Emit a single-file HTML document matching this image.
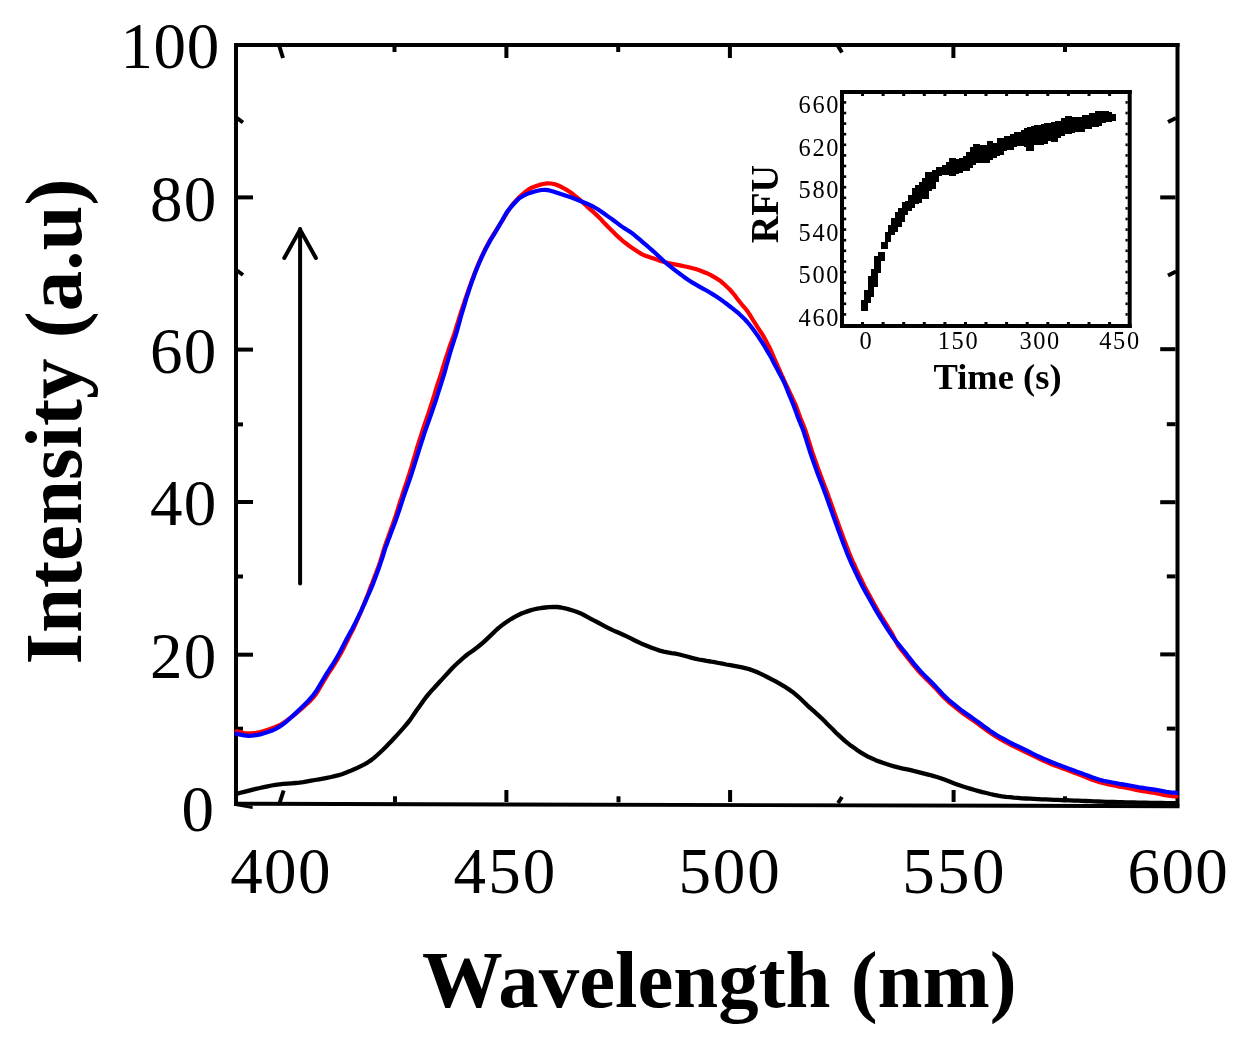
<!DOCTYPE html>
<html><head><meta charset="utf-8">
<style>
html,body{margin:0;padding:0;background:#fff;width:1250px;height:1049px;overflow:hidden}
svg{display:block;will-change:transform}
.t{font-family:"Liberation Serif",serif;fill:#000}
.lab{font-size:65px;letter-spacing:1.3px}
.ilab{font-size:24.4px;letter-spacing:1.6px}
.b{font-weight:bold}
</style></head>
<body>
<svg width="1250" height="1049" viewBox="0 0 1250 1049">
<rect width="1250" height="1049" fill="#fff"/>
<!-- frame -->
<g fill="#000">
<rect x="234" y="43" width="4" height="762.5"/>
<rect x="1175.5" y="43" width="4" height="763"/>
<rect x="234" y="43" width="945.5" height="4"/>
<polygon points="234,801.8 1179.5,804.2 1179.5,808.3 234,805.6"/>
<polygon points="234,803.5 252.6,805.7 252.6,809 234,805.8"/>
<!-- left ticks major -->
<rect x="238" y="195.4" width="15" height="4"/>
<rect x="238" y="347.6" width="15" height="4"/>
<rect x="238" y="500" width="15" height="4"/>
<rect x="238" y="652.7" width="15" height="4"/>
<!-- left ticks minor -->
<rect x="238" y="422.4" width="5" height="4"/>
<rect x="238" y="574.5" width="5" height="4"/>
<rect x="238" y="726.7" width="5" height="4"/>
<!-- right ticks major -->
<rect x="1160.2" y="195.4" width="15.3" height="4"/>
<rect x="1160.2" y="347.2" width="15.3" height="4"/>
<rect x="1160.2" y="500.2" width="15.3" height="4"/>
<rect x="1160.2" y="652.4" width="15.3" height="4"/>
<rect x="1166.8" y="422.2" width="8.7" height="4"/>
<rect x="1166.8" y="574.4" width="8.7" height="4"/>
<rect x="1166.8" y="726.6" width="8.7" height="4"/>
<!-- top ticks -->
<rect x="504.4" y="47" width="4" height="11"/>
<rect x="727.9" y="47" width="4" height="11"/>
<rect x="951.4" y="47" width="4" height="11"/>
<rect x="392.5" y="47" width="4" height="5"/>
<rect x="616.2" y="47" width="4" height="5"/>
<rect x="1063" y="47" width="4" height="5"/>
<!-- bottom ticks -->
<rect x="504.4" y="790" width="4" height="12"/>
<rect x="728.1" y="790" width="4" height="12"/>
<rect x="951.6" y="790" width="4" height="12"/>
<rect x="393" y="796.3" width="4" height="6"/>
<rect x="616.5" y="796.3" width="4" height="6"/>
<rect x="1063" y="796.3" width="4" height="6"/>
</g>
<!-- slanted ticks -->
<g stroke="#000" stroke-width="4" fill="none">
<line x1="279.3" y1="46" x2="283" y2="58"/>
<line x1="283.6" y1="790.5" x2="279.8" y2="802.5"/>
<line x1="838" y1="46" x2="842" y2="52.5"/>
<line x1="838" y1="803" x2="842" y2="797"/>
<line x1="237" y1="118" x2="243" y2="122.5"/>
<line x1="237" y1="270.5" x2="243" y2="275"/>
<line x1="1176" y1="118" x2="1168" y2="122"/>
<line x1="1176" y1="271.5" x2="1168" y2="275.5"/>
</g>
<!-- curves -->
<g fill="none" stroke-linejoin="round" stroke-linecap="round">
<path d="M236.5,793.9 L240.4,792.8 L244.2,791.8 L248.1,790.8 L252.0,789.8 L255.9,788.8 L259.8,788.0 L263.7,787.1 L267.6,786.3 L271.5,785.5 L275.5,784.8 L279.4,784.3 L283.4,783.9 L287.4,783.6 L291.4,783.3 L295.4,783.0 L299.4,782.7 L303.3,782.2 L307.3,781.4 L311.2,780.7 L315.1,780.0 L319.1,779.3 L323.0,778.6 L327.0,777.8 L330.9,777.0 L334.8,776.1 L338.7,775.2 L342.5,774.0 L346.3,772.6 L350.0,771.1 L353.6,769.5 L357.3,767.9 L360.9,766.1 L364.4,764.3 L367.9,762.3 L371.2,760.1 L374.3,757.6 L377.3,755.0 L380.3,752.2 L383.2,749.5 L386.0,746.7 L388.8,743.8 L391.6,740.9 L394.3,738.0 L397.0,735.1 L399.7,732.1 L402.4,729.1 L405.0,726.1 L407.6,723.0 L410.1,719.9 L412.3,716.6 L414.6,713.3 L416.8,710.0 L419.2,706.7 L421.5,703.4 L423.8,700.2 L426.2,697.0 L428.8,693.9 L431.4,690.9 L434.1,688.0 L436.8,685.0 L439.5,682.0 L442.2,679.1 L444.9,676.1 L447.6,673.2 L450.3,670.2 L453.1,667.3 L456.0,664.5 L458.9,661.8 L461.9,659.2 L464.9,656.5 L468.0,654.0 L471.3,651.7 L474.5,649.4 L477.7,647.0 L480.8,644.5 L483.9,641.9 L486.8,639.1 L489.7,636.4 L492.6,633.6 L495.5,630.8 L498.4,628.1 L501.5,625.6 L504.7,623.2 L508.0,621.0 L511.4,618.8 L514.8,616.8 L518.4,615.0 L522.0,613.3 L525.8,611.9 L529.6,610.6 L533.4,609.5 L537.3,608.7 L541.3,608.0 L545.2,607.5 L549.2,607.1 L553.2,606.9 L557.2,607.0 L561.1,607.5 L565.0,608.3 L568.9,609.4 L572.7,610.5 L576.5,611.7 L580.2,613.2 L583.8,615.0 L587.3,616.9 L590.8,618.8 L594.3,620.7 L597.9,622.5 L601.4,624.4 L605.0,626.3 L608.5,628.1 L612.1,629.9 L615.8,631.6 L619.4,633.1 L623.1,634.7 L626.7,636.4 L630.3,638.2 L633.9,640.0 L637.5,641.7 L641.1,643.4 L644.8,644.9 L648.5,646.4 L652.3,647.9 L656.0,649.3 L659.8,650.6 L663.7,651.6 L667.6,652.4 L671.5,653.1 L675.5,653.7 L679.4,654.5 L683.3,655.5 L687.1,656.5 L691.0,657.6 L694.9,658.6 L698.8,659.5 L702.7,660.2 L706.6,660.9 L710.6,661.5 L714.5,662.2 L718.5,663.0 L722.4,663.7 L726.3,664.5 L730.3,665.2 L734.2,665.9 L738.2,666.6 L742.1,667.4 L746.0,668.3 L749.8,669.4 L753.6,670.7 L757.3,672.3 L760.9,673.9 L764.5,675.7 L768.1,677.5 L771.6,679.3 L775.2,681.2 L778.7,683.2 L782.1,685.2 L785.6,687.2 L788.9,689.4 L792.2,691.7 L795.3,694.2 L798.4,696.8 L801.3,699.5 L804.2,702.3 L807.0,705.1 L810.0,707.8 L813.0,710.4 L816.0,713.1 L819.0,715.8 L821.9,718.5 L824.7,721.3 L827.5,724.2 L830.4,727.0 L833.2,729.8 L836.0,732.7 L838.9,735.4 L841.9,738.1 L844.9,740.8 L848.0,743.3 L851.1,745.8 L854.4,748.1 L857.7,750.4 L861.0,752.6 L864.4,754.7 L867.9,756.6 L871.5,758.3 L875.2,759.9 L878.9,761.4 L882.7,762.7 L886.5,764.0 L890.3,765.2 L894.1,766.4 L898.0,767.4 L901.9,768.3 L905.8,769.1 L909.7,769.9 L913.6,770.9 L917.5,771.8 L921.4,772.8 L925.3,773.8 L929.2,774.8 L933.0,775.9 L936.9,777.0 L940.7,778.2 L944.4,779.6 L948.2,781.0 L951.9,782.5 L955.7,783.9 L959.4,785.2 L963.2,786.5 L967.0,787.7 L970.9,788.9 L974.7,790.0 L978.6,791.1 L982.4,792.1 L986.3,793.0 L990.2,794.0 L994.1,794.9 L998.0,795.7 L1002.0,796.3 L1006.0,796.8 L1009.9,797.2 L1013.9,797.6 L1017.9,797.9 L1021.9,798.3 L1025.9,798.5 L1029.9,798.7 L1033.9,798.9 L1037.9,799.1 L1041.9,799.3 L1045.9,799.4 L1049.9,799.6 L1053.9,799.8 L1057.9,799.9 L1061.9,800.1 L1065.9,800.2 L1069.9,800.4 L1073.9,800.6 L1077.9,800.7 L1081.9,800.9 L1085.9,801.0 L1089.9,801.2 L1093.9,801.4 L1097.9,801.5 L1101.9,801.6 L1105.9,801.8 L1109.9,801.9 L1113.9,802.0 L1117.9,802.1 L1121.9,802.2 L1125.9,802.3 L1130.0,802.4 L1134.0,802.5 L1138.0,802.6 L1142.0,802.6 L1146.0,802.7 L1150.0,802.8 L1154.0,802.9 L1158.0,803.0 L1162.0,803.0 L1166.0,803.1 L1170.0,803.1 L1174.0,803.2 L1176.0,803.2" stroke="#000" stroke-width="4.3"/>
<path d="M236.5,731.2 L240.4,732.2 L244.3,733.0 L248.2,733.4 L252.2,733.3 L256.2,732.8 L260.1,732.0 L264.0,730.9 L267.8,729.8 L271.6,728.4 L275.3,727.0 L279.0,725.5 L282.4,723.5 L285.8,721.3 L289.0,718.9 L292.2,716.5 L295.3,714.0 L298.4,711.4 L301.4,708.8 L304.4,706.2 L307.4,703.5 L310.3,700.7 L313.0,697.8 L315.6,694.7 L317.7,691.4 L319.7,687.9 L321.8,684.5 L323.8,681.0 L325.9,677.6 L327.9,674.2 L330.1,670.8 L332.3,667.5 L334.5,664.1 L336.6,660.7 L338.6,657.2 L340.6,653.8 L342.5,650.3 L344.3,646.7 L346.1,643.1 L347.9,639.5 L349.7,635.9 L351.5,632.4 L353.3,628.8 L355.0,625.2 L356.6,621.5 L358.2,617.8 L359.8,614.2 L361.4,610.5 L362.9,606.8 L364.4,603.1 L365.9,599.4 L367.4,595.6 L368.8,591.9 L370.2,588.1 L371.7,584.4 L373.1,580.7 L374.5,576.9 L376.0,573.2 L377.4,569.5 L378.8,565.7 L380.1,561.9 L381.3,558.1 L382.4,554.3 L383.6,550.4 L384.8,546.6 L386.1,542.8 L387.5,539.1 L388.8,535.3 L390.2,531.5 L391.5,527.8 L392.9,524.0 L394.2,520.2 L395.5,516.4 L396.7,512.6 L397.9,508.8 L399.1,505.0 L400.3,501.2 L401.6,497.3 L402.8,493.5 L404.0,489.7 L405.3,485.9 L406.6,482.1 L407.8,478.3 L409.1,474.5 L410.3,470.7 L411.5,466.9 L412.6,463.0 L413.7,459.2 L414.9,455.4 L416.0,451.5 L417.1,447.7 L418.3,443.9 L419.5,440.0 L420.8,436.2 L422.0,432.4 L423.2,428.6 L424.5,424.8 L425.8,421.0 L427.1,417.2 L428.4,413.4 L429.6,409.6 L430.9,405.8 L432.1,402.0 L433.3,398.2 L434.5,394.4 L435.6,390.5 L436.8,386.7 L438.0,382.9 L439.3,379.1 L440.6,375.3 L441.8,371.5 L442.9,367.7 L444.1,363.8 L445.3,360.0 L446.5,356.2 L447.8,352.4 L449.0,348.6 L450.3,344.8 L451.7,341.1 L453.1,337.3 L454.4,333.5 L455.6,329.7 L456.7,325.9 L457.9,322.0 L459.1,318.2 L460.3,314.4 L461.5,310.6 L462.8,306.8 L464.1,303.0 L465.3,299.2 L466.6,295.4 L467.9,291.6 L469.3,287.8 L470.6,284.1 L472.0,280.3 L473.4,276.5 L474.8,272.8 L476.3,269.1 L477.8,265.4 L479.4,261.7 L481.0,258.0 L482.7,254.4 L484.4,250.8 L486.2,247.2 L488.1,243.7 L490.0,240.2 L492.1,236.8 L494.2,233.4 L496.3,230.0 L498.5,226.6 L500.6,223.2 L502.7,219.8 L504.8,216.4 L506.9,213.0 L509.0,209.6 L511.2,206.2 L513.7,203.1 L516.4,200.2 L519.2,197.3 L522.2,194.6 L525.2,192.0 L528.4,189.6 L531.8,187.6 L535.5,186.2 L539.4,184.9 L543.2,184.0 L547.2,183.4 L551.1,183.5 L555.0,184.2 L558.7,185.7 L562.3,187.5 L565.8,189.4 L569.2,191.5 L572.5,193.8 L575.6,196.3 L578.7,198.9 L581.7,201.5 L584.7,204.2 L587.6,206.9 L590.6,209.6 L593.6,212.2 L596.5,214.9 L599.4,217.7 L602.1,220.7 L604.8,223.6 L607.7,226.5 L610.5,229.3 L613.3,232.1 L616.2,234.9 L619.1,237.6 L622.1,240.3 L625.2,242.8 L628.4,245.2 L631.6,247.6 L634.9,249.8 L638.3,252.0 L641.7,254.1 L645.4,255.7 L649.1,257.0 L652.9,258.3 L656.7,259.6 L660.5,260.9 L664.3,262.0 L668.2,263.0 L672.1,263.8 L676.1,264.6 L680.0,265.4 L683.9,266.2 L687.8,267.0 L691.7,268.0 L695.6,269.1 L699.4,270.3 L703.1,271.7 L706.8,273.2 L710.4,274.9 L713.9,276.9 L717.3,278.9 L720.6,281.1 L723.7,283.8 L726.6,286.5 L729.5,289.3 L732.2,292.2 L734.7,295.3 L737.1,298.5 L739.6,301.7 L742.1,304.8 L744.7,307.8 L747.2,310.9 L749.4,314.2 L751.5,317.6 L753.6,321.0 L755.8,324.4 L758.0,327.8 L760.2,331.1 L762.4,334.5 L764.4,337.9 L766.3,341.5 L768.1,345.0 L770.0,348.6 L771.6,352.2 L773.2,355.9 L774.8,359.5 L776.4,363.2 L778.0,366.9 L779.7,370.5 L781.3,374.2 L783.0,377.8 L784.6,381.5 L786.3,385.1 L788.0,388.7 L789.7,392.3 L791.4,396.0 L793.1,399.6 L794.8,403.2 L796.4,406.9 L797.8,410.7 L799.1,414.4 L800.5,418.2 L802.0,421.9 L803.5,425.6 L805.0,429.3 L806.3,433.1 L807.5,436.9 L808.7,440.7 L809.9,444.5 L811.1,448.4 L812.3,452.2 L813.6,456.0 L814.9,459.7 L816.3,463.5 L817.6,467.3 L819.0,471.1 L820.4,474.8 L821.8,478.6 L823.2,482.3 L824.6,486.0 L826.1,489.8 L827.5,493.5 L828.8,497.3 L830.2,501.1 L831.5,504.8 L832.9,508.6 L834.2,512.4 L835.6,516.2 L836.9,519.9 L838.3,523.7 L839.6,527.5 L841.0,531.2 L842.4,535.0 L843.7,538.7 L845.2,542.5 L846.6,546.2 L848.0,550.0 L849.5,553.7 L851.0,557.4 L852.6,561.1 L854.3,564.7 L855.9,568.4 L857.6,572.0 L859.3,575.6 L861.1,579.2 L862.8,582.8 L864.6,586.4 L866.5,589.9 L868.4,593.5 L870.3,597.0 L872.2,600.5 L874.1,604.0 L876.1,607.5 L878.0,611.0 L880.1,614.4 L882.2,617.8 L884.3,621.2 L886.5,624.6 L888.6,628.0 L890.7,631.4 L892.7,634.9 L894.5,638.4 L896.2,642.1 L898.1,645.6 L900.5,648.8 L903.0,651.8 L905.5,654.9 L908.0,658.1 L910.4,661.3 L912.9,664.4 L915.5,667.5 L918.1,670.5 L920.8,673.5 L923.6,676.3 L926.4,679.2 L929.3,682.0 L932.1,684.8 L934.9,687.7 L937.6,690.7 L940.3,693.6 L943.0,696.5 L945.9,699.3 L948.8,702.1 L951.9,704.6 L955.0,707.1 L958.1,709.6 L961.3,712.1 L964.5,714.5 L967.8,716.7 L971.1,719.0 L974.4,721.3 L977.6,723.6 L980.8,726.0 L984.0,728.4 L987.3,730.8 L990.6,733.1 L993.9,735.3 L997.3,737.4 L1000.8,739.4 L1004.3,741.3 L1007.8,743.3 L1011.3,745.2 L1014.9,746.9 L1018.5,748.6 L1022.1,750.3 L1025.7,752.1 L1029.3,753.9 L1032.9,755.7 L1036.5,757.4 L1040.1,759.2 L1043.7,760.8 L1047.4,762.4 L1051.1,764.0 L1054.8,765.5 L1058.6,766.9 L1062.3,768.2 L1066.1,769.6 L1069.8,771.1 L1073.6,772.5 L1077.3,773.9 L1081.1,775.3 L1084.8,776.7 L1088.5,778.2 L1092.2,779.7 L1096.0,781.0 L1099.8,782.2 L1103.7,783.3 L1107.6,784.1 L1111.5,785.0 L1115.4,785.8 L1119.3,786.6 L1123.3,787.3 L1127.2,788.0 L1131.2,788.8 L1135.1,789.6 L1139.0,790.4 L1142.9,791.1 L1146.9,791.7 L1150.8,792.4 L1154.8,793.0 L1158.7,793.8 L1162.6,794.6 L1166.6,795.4 L1170.5,795.9 L1174.5,796.3 L1176.5,796.5" stroke="#f00" stroke-width="4.2"/>
<path d="M236.5,733.6 L240.4,734.6 L244.3,735.4 L248.3,735.8 L252.2,735.7 L256.2,735.2 L260.1,734.4 L264.0,733.3 L267.8,732.1 L271.5,730.8 L275.2,729.1 L278.7,727.2 L282.0,725.0 L285.2,722.6 L288.3,720.0 L291.2,717.3 L294.2,714.6 L297.1,711.9 L300.0,709.1 L302.9,706.3 L305.7,703.5 L308.5,700.6 L311.1,697.6 L313.7,694.6 L316.1,691.3 L318.2,687.9 L320.2,684.5 L322.2,681.0 L324.3,677.6 L326.4,674.2 L328.5,670.8 L330.7,667.5 L332.9,664.1 L335.0,660.7 L337.0,657.2 L339.0,653.8 L340.9,650.2 L342.7,646.7 L344.5,643.1 L346.4,639.5 L348.3,636.0 L350.2,632.5 L352.2,629.0 L354.0,625.5 L355.8,621.9 L357.6,618.3 L359.3,614.7 L361.1,611.1 L362.7,607.4 L364.4,603.8 L366.0,600.1 L367.6,596.5 L369.2,592.8 L370.8,589.1 L372.4,585.4 L373.8,581.7 L375.2,578.0 L376.6,574.2 L378.0,570.4 L379.3,566.7 L380.6,562.9 L381.9,559.1 L383.1,555.3 L384.3,551.4 L385.5,547.6 L386.9,543.9 L388.3,540.1 L389.7,536.4 L391.1,532.6 L392.5,528.9 L394.0,525.1 L395.4,521.4 L396.7,517.6 L398.0,513.8 L399.3,510.0 L400.5,506.2 L401.8,502.4 L403.0,498.6 L404.3,494.8 L405.6,491.0 L406.9,487.2 L408.2,483.5 L409.6,479.7 L410.9,475.9 L412.1,472.1 L413.3,468.3 L414.5,464.5 L415.7,460.6 L416.9,456.8 L418.1,453.0 L419.3,449.2 L420.5,445.3 L421.7,441.5 L423.0,437.7 L424.2,433.9 L425.5,430.1 L426.8,426.4 L428.2,422.6 L429.5,418.8 L430.8,415.0 L432.1,411.2 L433.4,407.5 L434.7,403.7 L436.0,399.9 L437.2,396.0 L438.4,392.2 L439.6,388.4 L440.8,384.6 L442.0,380.8 L443.2,377.0 L444.4,373.1 L445.5,369.3 L446.5,365.4 L447.6,361.6 L448.7,357.7 L449.8,353.9 L451.0,350.0 L452.2,346.2 L453.4,342.4 L454.6,338.6 L455.9,334.8 L457.0,330.9 L458.0,327.1 L459.1,323.2 L460.2,319.3 L461.2,315.5 L462.4,311.6 L463.5,307.8 L464.7,304.0 L465.8,300.1 L467.0,296.3 L468.3,292.5 L469.5,288.7 L470.8,284.9 L472.1,281.1 L473.5,277.4 L474.9,273.6 L476.3,269.9 L477.8,266.2 L479.4,262.5 L481.0,258.8 L482.7,255.2 L484.4,251.6 L486.2,248.0 L488.1,244.4 L490.0,240.9 L492.1,237.5 L494.2,234.1 L496.2,230.7 L498.3,227.2 L500.3,223.8 L502.3,220.3 L504.2,216.8 L506.2,213.3 L508.5,210.1 L511.0,207.0 L513.7,204.0 L516.4,201.0 L519.3,198.3 L522.6,196.2 L526.2,194.4 L529.9,192.9 L533.7,191.7 L537.6,190.7 L541.5,190.0 L545.5,189.8 L549.4,190.4 L553.2,191.5 L557.0,192.8 L560.8,194.1 L564.6,195.3 L568.4,196.5 L572.2,197.8 L576.0,199.3 L579.7,200.7 L583.4,202.2 L587.1,203.7 L590.8,205.4 L594.3,207.2 L597.8,209.2 L601.1,211.4 L604.4,213.7 L607.6,216.1 L610.9,218.4 L614.1,220.8 L617.3,223.1 L620.5,225.6 L623.8,227.9 L627.2,230.0 L630.6,232.1 L633.8,234.5 L636.8,237.1 L639.9,239.7 L642.9,242.3 L646.0,244.9 L649.0,247.5 L652.0,250.1 L655.0,252.8 L657.9,255.5 L660.8,258.2 L663.8,261.0 L666.8,263.6 L669.9,266.1 L673.0,268.6 L676.2,271.1 L679.4,273.5 L682.6,275.9 L685.8,278.3 L689.1,280.5 L692.5,282.6 L696.0,284.6 L699.4,286.6 L702.9,288.6 L706.5,290.5 L709.9,292.5 L713.3,294.6 L716.7,296.8 L720.0,299.0 L723.3,301.4 L726.5,303.8 L729.7,306.2 L732.8,308.6 L735.9,311.1 L739.0,313.7 L741.9,316.5 L744.8,319.3 L747.5,322.2 L750.0,325.3 L752.5,328.5 L754.9,331.7 L757.2,334.9 L759.4,338.3 L761.6,341.6 L763.8,345.0 L765.8,348.4 L767.8,351.9 L769.8,355.3 L771.8,358.8 L773.6,362.4 L775.5,365.9 L777.4,369.5 L779.2,373.0 L781.1,376.5 L783.0,380.1 L784.7,383.7 L786.3,387.4 L787.7,391.1 L789.2,394.8 L790.8,398.5 L792.3,402.2 L793.8,405.9 L795.2,409.7 L796.6,413.5 L797.9,417.2 L799.4,421.0 L800.9,424.6 L802.4,428.3 L803.8,432.1 L805.0,435.9 L806.2,439.7 L807.4,443.6 L808.6,447.4 L809.8,451.2 L811.1,455.0 L812.4,458.8 L813.7,462.5 L815.1,466.3 L816.4,470.1 L817.8,473.9 L819.2,477.6 L820.6,481.3 L822.1,485.1 L823.5,488.8 L824.9,492.6 L826.3,496.3 L827.6,500.1 L829.0,503.9 L830.3,507.6 L831.7,511.4 L833.0,515.2 L834.4,519.0 L835.7,522.7 L837.1,526.5 L838.4,530.3 L839.8,534.0 L841.2,537.8 L842.6,541.5 L844.0,545.3 L845.5,549.0 L846.9,552.7 L848.4,556.5 L850.0,560.1 L851.6,563.8 L853.3,567.4 L855.0,571.1 L856.7,574.7 L858.4,578.3 L860.2,581.9 L862.0,585.5 L863.9,589.0 L865.8,592.5 L867.8,596.0 L869.8,599.5 L871.7,603.0 L873.7,606.4 L875.6,609.9 L877.7,613.4 L879.8,616.8 L881.9,620.2 L884.0,623.6 L886.2,627.0 L888.3,630.4 L890.5,633.7 L892.8,637.0 L895.2,640.2 L897.7,643.3 L900.2,646.4 L902.8,649.5 L905.3,652.6 L907.7,655.8 L910.2,658.9 L912.7,662.1 L915.2,665.2 L917.8,668.2 L920.5,671.2 L923.3,674.1 L926.1,676.9 L929.0,679.7 L931.8,682.5 L934.6,685.4 L937.3,688.4 L940.0,691.3 L942.7,694.2 L945.6,697.1 L948.5,699.8 L951.6,702.4 L954.7,704.9 L957.8,707.4 L960.9,709.9 L964.2,712.2 L967.5,714.5 L970.8,716.8 L974.0,719.1 L977.3,721.4 L980.5,723.8 L983.7,726.2 L987.0,728.5 L990.2,730.9 L993.5,733.1 L996.9,735.2 L1000.4,737.2 L1003.9,739.1 L1007.4,741.1 L1010.9,743.0 L1014.5,744.8 L1018.2,746.4 L1021.8,748.1 L1025.4,749.9 L1029.0,751.7 L1032.5,753.5 L1036.1,755.3 L1039.7,757.0 L1043.4,758.7 L1047.1,760.3 L1050.7,761.8 L1054.4,763.3 L1058.2,764.8 L1062.0,766.1 L1065.7,767.5 L1069.5,768.9 L1073.2,770.3 L1077.0,771.7 L1080.8,773.0 L1084.5,774.4 L1088.2,775.8 L1092.0,777.3 L1095.8,778.6 L1099.6,779.7 L1103.5,780.7 L1107.4,781.5 L1111.3,782.3 L1115.3,783.0 L1119.2,783.8 L1123.1,784.4 L1127.1,785.1 L1131.0,785.8 L1135.0,786.5 L1138.9,787.3 L1142.9,787.9 L1146.8,788.5 L1150.8,789.1 L1154.7,789.7 L1158.7,790.4 L1162.6,791.1 L1166.5,791.8 L1170.5,792.3 L1174.5,792.6 L1176.5,792.8" stroke="#00f" stroke-width="4.2"/>
</g>
<!-- arrow -->
<g stroke="#000" stroke-width="4" fill="none" stroke-linecap="round" stroke-linejoin="round">
<line x1="300.1" y1="229" x2="300.1" y2="583.6"/>
<polyline points="284.3,258 300.1,229.6 315.9,258"/>
</g>
<!-- y labels -->
<g class="t lab" text-anchor="end">
<text x="220" y="68.2" style="letter-spacing:0.7px">100</text>
<text x="217.5" y="220.6">80</text>
<text x="217.5" y="373.4">60</text>
<text x="217.5" y="525.3">40</text>
<text x="217.5" y="677.8">20</text>
<text x="215.2" y="830.8">0</text>
</g>
<!-- x labels -->
<g class="t lab" text-anchor="middle">
<text x="281" y="892.7">400</text>
<text x="505.5" y="893" style="letter-spacing:2.2px">450</text>
<text x="730" y="893" style="letter-spacing:1.8px">500</text>
<text x="954.5" y="893" style="letter-spacing:2.4px">550</text>
<text x="1178.3" y="893">600</text>
</g>
<!-- titles -->
<text class="t b" x="422" y="1006.8" font-size="80.8">Wavelength (nm)</text>
<text class="t b" font-size="81" transform="translate(80.5,664.5) rotate(-90)">Intensity (a.u)</text>

<!-- inset -->
<g fill="#000">
<rect x="840" y="90" width="4" height="238"/>
<rect x="1127.7" y="90" width="4" height="238"/>
<rect x="840" y="90" width="291.7" height="4"/>
<rect x="840" y="324" width="291.7" height="4"/>
<rect x="861" y="300" width="7" height="11"/><rect x="864" y="290" width="7" height="13"/><rect x="868" y="276" width="6" height="21"/><rect x="871" y="269" width="7" height="18"/><rect x="874" y="256" width="7" height="17"/><rect x="878" y="252" width="7" height="9"/><rect x="881" y="242" width="7" height="7"/><rect x="885" y="232" width="6" height="10"/><rect x="888" y="225" width="7" height="10"/><rect x="891" y="218" width="7" height="14"/><rect x="895" y="212" width="7" height="15"/><rect x="898" y="208" width="7" height="14"/><rect x="902" y="202" width="6" height="13"/><rect x="905" y="201" width="7" height="10"/><rect x="908" y="195" width="7" height="13"/><rect x="912" y="188" width="7" height="16"/><rect x="915" y="185" width="7" height="18"/><rect x="919" y="182" width="6" height="17"/><rect x="922" y="178" width="7" height="21"/><rect x="925" y="172" width="7" height="19"/><rect x="929" y="172" width="7" height="17"/><rect x="932" y="170" width="7" height="12"/><rect x="936" y="167" width="6" height="9"/><rect x="939" y="167" width="7" height="8"/><rect x="942" y="165" width="7" height="10"/><rect x="946" y="162" width="7" height="13"/><rect x="949" y="158" width="7" height="18"/><rect x="953" y="159" width="6" height="15"/><rect x="956" y="159" width="7" height="14"/><rect x="959" y="158" width="7" height="12"/><rect x="963" y="156" width="7" height="15"/><rect x="966" y="152" width="7" height="16"/><rect x="970" y="147" width="6" height="18"/><rect x="973" y="144" width="7" height="19"/><rect x="976" y="145" width="7" height="18"/><rect x="980" y="145" width="7" height="17"/><rect x="983" y="145" width="7" height="18"/><rect x="987" y="141" width="6" height="19"/><rect x="990" y="144" width="7" height="14"/><rect x="993" y="143" width="7" height="13"/><rect x="997" y="138" width="7" height="17"/><rect x="1000" y="139" width="7" height="12"/><rect x="1004" y="136" width="6" height="14"/><rect x="1007" y="138" width="7" height="12"/><rect x="1010" y="134" width="7" height="13"/><rect x="1014" y="132" width="7" height="14"/><rect x="1017" y="132" width="7" height="14"/><rect x="1021" y="130" width="6" height="16"/><rect x="1024" y="128" width="7" height="19"/><rect x="1027" y="127" width="7" height="19"/><rect x="1031" y="126" width="7" height="19"/><rect x="1034" y="125" width="7" height="19"/><rect x="1038" y="127" width="6" height="18"/><rect x="1041" y="124" width="7" height="20"/><rect x="1044" y="123" width="7" height="17"/><rect x="1048" y="126" width="7" height="15"/><rect x="1051" y="122" width="7" height="20"/><rect x="1055" y="121" width="6" height="17"/><rect x="1058" y="122" width="7" height="14"/><rect x="1061" y="118" width="7" height="16"/><rect x="1065" y="116" width="7" height="18"/><rect x="1068" y="117" width="7" height="16"/><rect x="1072" y="117" width="6" height="15"/><rect x="1075" y="119" width="7" height="12"/><rect x="1078" y="117" width="7" height="15"/><rect x="1082" y="115" width="7" height="14"/><rect x="1085" y="117" width="7" height="12"/><rect x="1089" y="113" width="6" height="12"/><rect x="1092" y="114" width="7" height="13"/><rect x="1095" y="111" width="7" height="15"/><rect x="1099" y="113" width="7" height="10"/><rect x="1102" y="111" width="7" height="9"/><rect x="1106" y="112" width="6" height="10"/><rect x="1109" y="114" width="7" height="7"/><rect x="1026" y="144" width="8" height="7"/>
<rect x="844" y="101.1" width="2.2" height="2.6"/><rect x="1125.5" y="101.1" width="2.2" height="2.6"/><rect x="844" y="111.7" width="2.2" height="2.6"/><rect x="1125.5" y="111.7" width="2.2" height="2.6"/><rect x="844" y="122.3" width="2.2" height="2.6"/><rect x="1125.5" y="122.3" width="2.2" height="2.6"/><rect x="844" y="132.9" width="2.2" height="2.6"/><rect x="1125.5" y="132.9" width="2.2" height="2.6"/><rect x="844" y="143.5" width="2.2" height="2.6"/><rect x="1125.5" y="143.5" width="2.2" height="2.6"/><rect x="844" y="154.1" width="2.2" height="2.6"/><rect x="1125.5" y="154.1" width="2.2" height="2.6"/><rect x="844" y="164.7" width="2.2" height="2.6"/><rect x="1125.5" y="164.7" width="2.2" height="2.6"/><rect x="844" y="175.3" width="2.2" height="2.6"/><rect x="1125.5" y="175.3" width="2.2" height="2.6"/><rect x="844" y="185.9" width="2.2" height="2.6"/><rect x="1125.5" y="185.9" width="2.2" height="2.6"/><rect x="844" y="196.5" width="2.2" height="2.6"/><rect x="1125.5" y="196.5" width="2.2" height="2.6"/><rect x="844" y="207.1" width="2.2" height="2.6"/><rect x="1125.5" y="207.1" width="2.2" height="2.6"/><rect x="844" y="217.7" width="2.2" height="2.6"/><rect x="1125.5" y="217.7" width="2.2" height="2.6"/><rect x="844" y="228.3" width="2.2" height="2.6"/><rect x="1125.5" y="228.3" width="2.2" height="2.6"/><rect x="844" y="238.9" width="2.2" height="2.6"/><rect x="1125.5" y="238.9" width="2.2" height="2.6"/><rect x="844" y="249.5" width="2.2" height="2.6"/><rect x="1125.5" y="249.5" width="2.2" height="2.6"/><rect x="844" y="260.1" width="2.2" height="2.6"/><rect x="1125.5" y="260.1" width="2.2" height="2.6"/><rect x="844" y="270.7" width="2.2" height="2.6"/><rect x="1125.5" y="270.7" width="2.2" height="2.6"/><rect x="844" y="281.3" width="2.2" height="2.6"/><rect x="1125.5" y="281.3" width="2.2" height="2.6"/><rect x="844" y="291.9" width="2.2" height="2.6"/><rect x="1125.5" y="291.9" width="2.2" height="2.6"/><rect x="844" y="302.5" width="2.2" height="2.6"/><rect x="1125.5" y="302.5" width="2.2" height="2.6"/><rect x="844" y="313.1" width="2.2" height="2.6"/><rect x="1125.5" y="313.1" width="2.2" height="2.6"/><rect x="861.0" y="94" width="3" height="2"/><rect x="861.0" y="322" width="3" height="2"/><rect x="881.6" y="94" width="3" height="2"/><rect x="881.6" y="322" width="3" height="2"/><rect x="902.2" y="94" width="3" height="2"/><rect x="902.2" y="322" width="3" height="2"/><rect x="922.8" y="94" width="3" height="2"/><rect x="922.8" y="322" width="3" height="2"/><rect x="943.4" y="94" width="3" height="2"/><rect x="943.4" y="322" width="3" height="2"/><rect x="964.0" y="94" width="3" height="2"/><rect x="964.0" y="322" width="3" height="2"/><rect x="984.5" y="94" width="3" height="2"/><rect x="984.5" y="322" width="3" height="2"/><rect x="1005.1" y="94" width="3" height="2"/><rect x="1005.1" y="322" width="3" height="2"/><rect x="1025.7" y="94" width="3" height="2"/><rect x="1025.7" y="322" width="3" height="2"/><rect x="1046.3" y="94" width="3" height="2"/><rect x="1046.3" y="322" width="3" height="2"/><rect x="1066.9" y="94" width="3" height="2"/><rect x="1066.9" y="322" width="3" height="2"/><rect x="1087.5" y="94" width="3" height="2"/><rect x="1087.5" y="322" width="3" height="2"/><rect x="1108.1" y="94" width="3" height="2"/><rect x="1108.1" y="322" width="3" height="2"/>
</g>
<g class="t ilab" text-anchor="end">
<text x="840" y="113.2">660</text>
<text x="840" y="155.7">620</text>
<text x="840" y="198.2">580</text>
<text x="840" y="240.7">540</text>
<text x="840" y="283.2">500</text>
<text x="840" y="325.7">460</text>
</g>
<g class="t ilab" text-anchor="middle">
<text x="866.5" y="349.1">0</text>
<text x="958.5" y="349.1">150</text>
<text x="1040.2" y="349.1">300</text>
<text x="1120" y="349.1">450</text>
</g>
<text class="t b" x="933.5" y="389" font-size="36.5">Time (s)</text>
<text class="t b" font-size="38" transform="translate(778.3,243.2) rotate(-90) scale(1,1.04)">RFU</text>
</svg>
</body></html>
